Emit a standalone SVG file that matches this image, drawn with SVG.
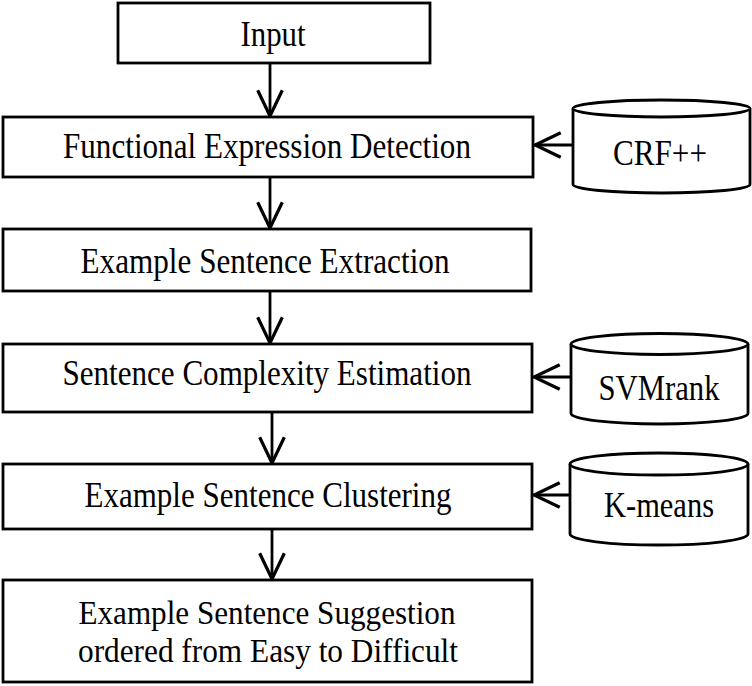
<svg xmlns="http://www.w3.org/2000/svg" width="752" height="686" viewBox="0 0 752 686">
<style>
.box{fill:#fff;stroke:#000;stroke-width:2.8}
.cyl{fill:#fff;stroke:#000;stroke-width:2.8}
.t{font-family:"Liberation Serif","Times New Roman",serif;font-size:36px;fill:#000;text-anchor:middle}
.s{font-size:33px}
.c{stroke:#000;stroke-width:2.8;fill:none;marker-end:url(#ah)}
</style>
<defs>
<marker id="ah" markerUnits="userSpaceOnUse" markerWidth="30" markerHeight="30" viewBox="-26 -14 28 28" refX="0" refY="0" orient="auto">
<polyline points="-24,-11.5 0,0 -24,11.5" fill="none" stroke="#000" stroke-width="3"/>
</marker>
</defs>
<rect width="752" height="686" fill="#fff"/>
<g id="input"><rect class="box" x="118" y="3" width="312" height="60"/><text class="t" x="273" y="46" textLength="65" lengthAdjust="spacingAndGlyphs">Input</text></g>
<g id="fed"><rect class="box" x="3" y="117" width="530" height="60"/><text class="t" x="267" y="158" textLength="408" lengthAdjust="spacingAndGlyphs">Functional Expression Detection</text></g>
<g id="crf"><path class="cyl" d="M573,108.5 A88.5,8.5 0 0 1 750,108.5 L750,184.5 A88.5,8.5 0 0 1 573,184.5 Z"/><path class="cyl" fill="none" d="M573,108.5 A88.5,8.5 0 0 0 750,108.5"/><text class="t" x="660" y="165" textLength="94" lengthAdjust="spacingAndGlyphs">CRF++</text></g>
<g id="ese"><rect class="box" x="3" y="229" width="528" height="62"/><text class="t" x="265" y="273" textLength="369" lengthAdjust="spacingAndGlyphs">Example Sentence Extraction</text></g>
<g id="sce"><rect class="box" x="3" y="344" width="529" height="68"/><text class="t" x="267" y="385" textLength="409" lengthAdjust="spacingAndGlyphs">Sentence Complexity Estimation</text></g>
<g id="svm"><path class="cyl" d="M571,344 A88.5,10.5 0 0 1 748,344 L748,413.5 A88.5,10.5 0 0 1 571,413.5 Z"/><path class="cyl" fill="none" d="M571,344 A88.5,10.5 0 0 0 748,344"/><text class="t" x="659" y="400" textLength="121" lengthAdjust="spacingAndGlyphs">SVMrank</text></g>
<g id="esc"><rect class="box" x="3" y="464" width="529" height="65"/><text class="t" x="268" y="507" textLength="367" lengthAdjust="spacingAndGlyphs">Example Sentence Clustering</text></g>
<g id="km"><path class="cyl" d="M570,464 A89,11 0 0 1 748,464 L748,534 A89,11 0 0 1 570,534 Z"/><path class="cyl" fill="none" d="M570,464 A89,11 0 0 0 748,464"/><text class="t" x="659" y="517" textLength="110" lengthAdjust="spacingAndGlyphs">K-means</text></g>
<g id="ess"><rect class="box" x="3" y="580" width="529" height="102"/><text class="t s" x="267" y="624" textLength="377" lengthAdjust="spacingAndGlyphs">Example Sentence Suggestion</text><text class="t s" x="268" y="662" textLength="380" lengthAdjust="spacingAndGlyphs">ordered from Easy to Difficult</text></g>
<g id="connectors">
<line class="c" x1="270" y1="63" x2="270" y2="116"/>
<line class="c" x1="270" y1="177" x2="270" y2="228"/>
<line class="c" x1="270" y1="291" x2="270" y2="343"/>
<line class="c" x1="272" y1="412" x2="272" y2="463"/>
<line class="c" x1="272" y1="529" x2="272" y2="579"/>
<line class="c" x1="573" y1="145" x2="535" y2="145"/>
<line class="c" x1="571" y1="377" x2="534" y2="377"/>
<line class="c" x1="570" y1="495" x2="534" y2="495"/>
</g>
</svg>
